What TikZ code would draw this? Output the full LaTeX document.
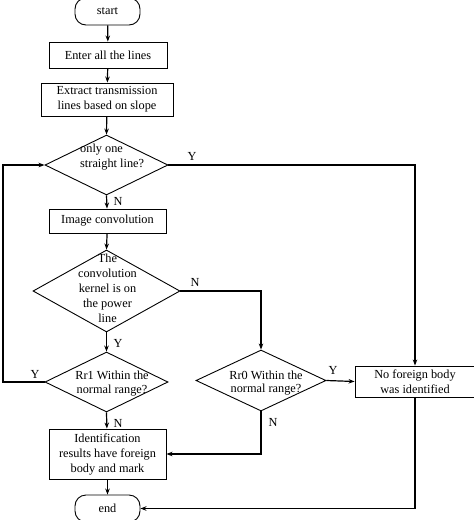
\documentclass[tikz,border=0pt]{standalone}
\usepackage{fontspec}
\setmainfont{Liberation Serif}
\usetikzlibrary{arrows.meta,shapes.geometric}
\begin{document}
\begin{tikzpicture}[x=1pt,y=1pt,
  every node/.style={font=\fontsize{12.3}{15}\selectfont},
  box/.style={draw,line width=0.9pt,rectangle,inner sep=0pt,align=center},
  term/.style={draw,line width=0.9pt,rectangle,rounded corners=11pt,inner sep=0pt,minimum width=65pt,minimum height=27pt},
  dia/.style={draw,line width=0.9pt,diamond,inner sep=0pt},
  txt/.style={inner sep=0pt},
  lbl/.style={inner sep=0pt},
  arr/.style={line width=1.2pt,-{Stealth[length=6pt,width=4.5pt]}},
  ln/.style={line width=1.2pt}]
\useasboundingbox (0,0) rectangle (474,-520);
\begin{scope}
\clip (0,0) rectangle (474,-520);
% nodes
\node[term] (start) at (107.5,-11.5) {start};
\node[box,minimum width=118pt,minimum height=26pt] (enter) at (108,-55) {Enter all the lines};
\node[box,minimum width=132pt,minimum height=33pt] (extract) at (107,-99.5) {Extract transmission\\lines based on slope};
\node[dia,minimum width=123pt,minimum height=60pt] (d1) at (106.5,-165) {};
\node[txt,align=left,anchor=west] (d1t) at (80,-157.5) {only one\\straight line?};
\node[box,minimum width=117pt,minimum height=24pt] (conv) at (107.5,-221) {Image convolution};
\node[dia,minimum width=147pt,minimum height=82pt] (d2) at (106.5,-291) {};
\node[txt,align=center] (d2t) at (107.5,-288) {The\\convolution\\kernel is on\\the power\\line};
\node[dia,minimum width=123pt,minimum height=60pt] (d3) at (106.5,-382) {};
\node[txt,align=center,font=\fontsize{12.3}{14.5}\selectfont] (d3t) at (112,-383.5) {Rr1 Within the\\normal range?};
\node[box,minimum width=117pt,minimum height=50pt] (ident) at (107.5,-454) {Identification\\results have foreign\\body and mark};
\node[term] (end) at (107.5,-508.5) {end};
\node[dia,minimum width=130pt,minimum height=61pt] (d4) at (261,-380.5) {};
\node[txt,align=center,font=\fontsize{12.3}{13.5}\selectfont] (d4t) at (266,-383) {Rr0 Within the\\normal range?};
\node[box,minimum width=120pt,minimum height=31pt] (nofb) at (415,-381.5) {No foreign body\\was identified};
\coordinate (lp) at (3,-382);
% connectors
\draw[arr] (start) -- (enter);
\draw[arr] (enter) -- (extract);
\draw[arr] (extract) -- (d1.north);
\draw[arr] (d1.south) -- (conv);
\draw[arr] (conv) -- (d2.north);
\draw[arr] (d2.south) -- (d3.north);
\draw[arr] (d3.south) -- (ident);
\draw[arr] (ident) -- (end);
\draw[arr] (d1.east) -| (nofb.north);
\draw[arr] (d2.east) -| (d4.north);
\draw[arr] (d4.east) -- (nofb.west);
\draw[arr] (d4.south) |- (ident.east);
\draw[arr] (nofb.south) |- (end.east);
\draw[arr] (d3.west) -- (lp) |- (d1.west);
% labels
\node[lbl] (y1) at (192,-156) {Y};
\node[lbl] (n1) at (118,-201) {N};
\node[lbl] (n2) at (195,-282) {N};
\node[lbl] (y2) at (118,-343) {Y};
\node[lbl] (y3) at (35,-374) {Y};
\node[lbl] (n3) at (118,-423) {N};
\node[lbl] (y4) at (333,-370) {Y};
\node[lbl] (n4) at (273,-422) {N};
\end{scope}
\end{tikzpicture}
\end{document}
